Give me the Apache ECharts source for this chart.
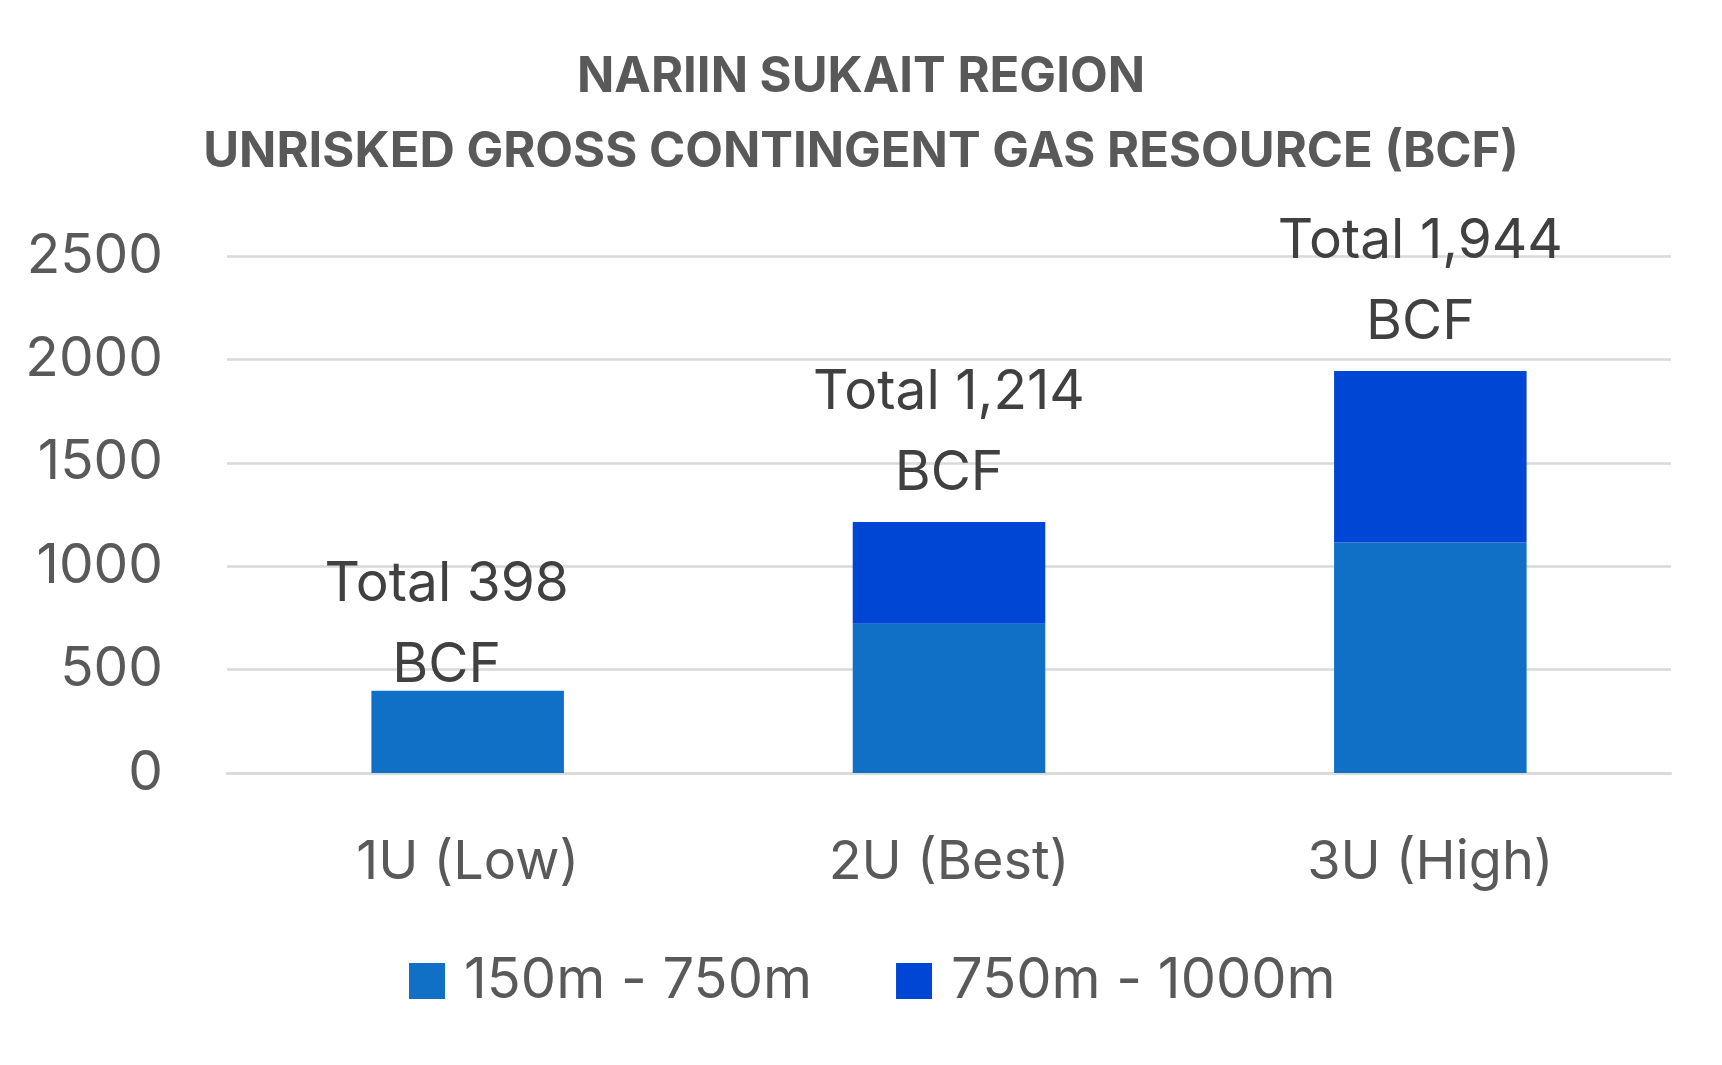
<!DOCTYPE html>
<html style="height: 100%">
<head>
    <meta charset="utf-8">
    <script src="https://cdn.jsdelivr.net/npm/echarts@6/dist/echarts.min.js"></script>
</head>
<body style="height: 100%; margin: 0; background: #fff">
    <div id="container" style="width: 1722px; height: 1065px"></div>
    <script type="text/javascript">
        const categories = ['1U (Low)', '2U (Best)', '3U (High)'];
        const shallow = [398, 722, 1115];      // 150m - 750m
        const deep = [0, 492, 829];            // 750m - 1000m
        const totals = ['398', '1,214', '1,944'];
        const seriesNames = ['150m - 750m', '750m - 1000m'];
        const yTicks = [0, 500, 1000, 1500, 2000, 2500];

        const fontFamily = 'Inter';
        const grey = '#595959';

        // label offsets, the 1U label sits closer to its bar
        const labelOffsets = [[-21, 23], [0, 0], [-10, 0]];

        let chart = echarts.init(document.getElementById('container'), null, { renderer: 'canvas' });

        let option = {
            backgroundColor: '#fff',
            animation: false,
            title: {
                text: 'NARIIN SUKAIT REGION\nUNRISKED GROSS CONTINGENT GAS RESOURCE (BCF)',
                left: 'center',
                top: 35,
                textStyle: {
                    fontFamily: fontFamily,
                    fontWeight: 'bold',
                    fontSize: 49,
                    lineHeight: 75,
                    color: grey
                }
            },
            grid: {
                left: 227,
                right: 51,
                top: 256,
                bottom: 292
            },
            legend: {
                data: seriesNames,
                left: 404,
                top: 948,
                icon: 'rect',
                itemWidth: 36,
                itemHeight: 36,
                itemGap: 84,
                textStyle: {
                    fontFamily: fontFamily,
                    fontSize: 56,
                    color: grey,
                    padding: [0, 0, 0, 14]
                }
            },
            xAxis: {
                type: 'category',
                data: categories,
                axisTick: { show: false },
                axisLine: { lineStyle: { color: '#D9D9D9', width: 2.5 } },
                axisLabel: {
                    margin: 63,
                    fontFamily: fontFamily,
                    fontSize: 54,
                    color: grey
                }
            },
            yAxis: {
                type: 'value',
                min: yTicks[0],
                max: yTicks[yTicks.length - 1],
                interval: 500,
                axisLine: { show: false },
                axisTick: { show: false },
                splitLine: { lineStyle: { color: '#D9D9D9', width: 2.5 } },
                axisLabel: {
                    margin: 64,
                    fontFamily: fontFamily,
                    fontSize: 55,
                    color: grey,
                    formatter: (v) => String(v)
                }
            },
            series: [
                {
                    name: seriesNames[0],
                    type: 'bar',
                    stack: 'gas',
                    barWidth: '40%',
                    itemStyle: { color: '#1070C6' },
                    data: shallow
                },
                {
                    name: seriesNames[1],
                    type: 'bar',
                    stack: 'gas',
                    barWidth: '40%',
                    itemStyle: { color: '#0046D5' },
                    data: deep.map((v, i) => ({
                        value: v,
                        label: { offset: labelOffsets[i] }
                    })),
                    label: {
                        show: true,
                        position: 'top',
                        distance: 8,
                        fontFamily: fontFamily,
                        fontSize: 55,
                        lineHeight: 81,
                        color: '#404040',
                        formatter: (p) => 'Total ' + totals[p.dataIndex] + '\nBCF'
                    }
                }
            ]
        };

        chart.setOption(option);
    </script>
</body>
</html>
